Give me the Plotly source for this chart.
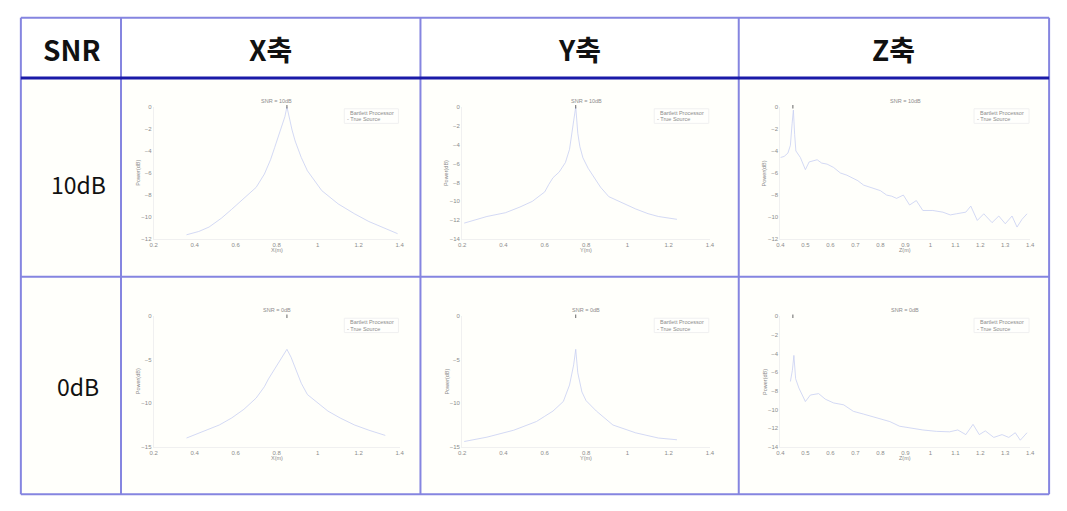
import plotly.graph_objects as go

W, H = 1067, 511

# ---------------- data ----------------
row_labels = ["10dB", "0dB"]
col_labels = ["X축", "Y축", "Z축"]
axis_names = ["X(m)", "Y(m)", "Z(m)"]
snr_titles = ["SNR = 10dB", "SNR = 0dB"]

# true source positions per axis (m)
true_source = [0.85, 0.75, 0.45]

# Bartlett processor output, SNR = 10dB
x10_pos = [0.36, 0.42, 0.47, 0.53, 0.58, 0.64, 0.70, 0.74, 0.77, 0.79, 0.82, 0.84, 0.85,
           0.86, 0.875, 0.89, 0.92, 0.95, 1.02, 1.10, 1.18, 1.25, 1.31, 1.39]
x10_pow = [-11.6, -11.3, -10.9, -10.1, -9.3, -8.3, -7.3, -6.1, -4.8, -3.7, -2.0, -0.9, 0.0,
           -0.9, -2.1, -3.1, -4.6, -5.8, -7.6, -8.8, -9.7, -10.4, -10.9, -11.5]

y10_pos = [0.21, 0.27, 0.32, 0.41, 0.48, 0.54, 0.60, 0.62, 0.64, 0.67, 0.70, 0.72, 0.73, 0.74,
           0.75, 0.755, 0.76, 0.77, 0.785, 0.81, 0.83, 0.87, 0.91, 0.98, 1.04, 1.10, 1.15, 1.24]
y10_pow = [-12.3, -11.9, -11.6, -11.2, -10.6, -10.0, -9.0, -8.2, -7.5, -6.9, -5.9, -4.5, -3.2, -1.5,
           0.0, -1.5, -2.8, -4.2, -5.4, -6.5, -7.2, -8.5, -9.5, -10.2, -10.8, -11.3, -11.6, -11.9]

z10_pos = [0.40, 0.415, 0.43, 0.44, 0.447, 0.452, 0.457, 0.462, 0.48, 0.50, 0.515, 0.53, 0.547,
           0.565, 0.587, 0.613, 0.64, 0.666, 0.69, 0.71, 0.733, 0.76, 0.78, 0.80, 0.825, 0.845,
           0.865, 0.892, 0.917, 0.944, 0.97, 1.01, 1.05, 1.08, 1.104, 1.142, 1.162, 1.188, 1.214,
           1.247, 1.274, 1.30, 1.327, 1.347, 1.367, 1.387]
z10_pow = [-4.6, -4.5, -4.2, -3.5, -1.5, -0.3, -2.5, -4.0, -4.6, -5.7, -5.0, -4.9, -4.8,
           -5.1, -5.2, -5.5, -6.0, -6.2, -6.5, -6.7, -7.1, -7.3, -7.4, -7.6, -8.0, -8.1,
           -8.3, -8.0, -8.9, -8.5, -9.4, -9.4, -9.55, -9.8, -9.7, -9.55, -9.0, -10.3, -9.7,
           -10.5, -9.9, -10.6, -9.9, -10.9, -10.2, -9.7]

# Bartlett processor output, SNR = 0dB
x0_pos = [0.36, 0.45, 0.52, 0.58, 0.64, 0.70, 0.74, 0.76, 0.79, 0.81, 0.83, 0.85, 0.87, 0.89,
          0.92, 0.95, 1.00, 1.05, 1.11, 1.18, 1.25, 1.33]
x0_pow = [-14.0, -13.2, -12.5, -11.7, -10.7, -9.4, -8.1, -7.2, -6.1, -5.3, -4.5, -3.8, -4.7, -6.0,
          -7.7, -9.0, -10.0, -10.9, -11.7, -12.5, -13.1, -13.7]

y0_pos = [0.21, 0.32, 0.45, 0.56, 0.60, 0.64, 0.69, 0.72, 0.74, 0.75, 0.76, 0.78, 0.80, 0.85,
          0.93, 1.04, 1.15, 1.24]
y0_pow = [-14.4, -13.9, -13.1, -12.1, -11.5, -10.9, -9.8, -7.9, -5.6, -3.8, -6.5, -8.7, -9.7, -10.9,
          -12.5, -13.4, -14.0, -14.2]

z0_pos = [0.44, 0.448, 0.454, 0.461, 0.474, 0.50, 0.52, 0.553, 0.58, 0.613, 0.653, 0.692, 0.733,
          0.785, 0.838, 0.877, 0.917, 0.97, 1.024, 1.077, 1.11, 1.142, 1.171, 1.196, 1.22, 1.254,
          1.287, 1.314, 1.34, 1.36, 1.387]
z0_pow = [-7.0, -5.8, -4.2, -6.7, -7.7, -9.15, -8.45, -8.3, -8.9, -9.3, -9.5, -10.2, -10.5,
          -10.9, -11.3, -11.8, -12.0, -12.2, -12.35, -12.4, -12.2, -12.7, -11.6, -12.7, -12.3, -13.0,
          -12.7, -13.0, -12.5, -13.3, -12.5]

# axis settings per panel
x_ranges = [[0.2, 1.4], [0.2, 1.4], [0.4, 1.4]]
x_ticks = [[0.2, 0.4, 0.6, 0.8, 1.0, 1.2, 1.4],
           [0.2, 0.4, 0.6, 0.8, 1.0, 1.2, 1.4],
           [0.4, 0.5, 0.6, 0.7, 0.8, 0.9, 1.0, 1.1, 1.2, 1.3, 1.4]]
y_ranges = [[[-12, 0], [-14, 0], [-12, 0]],
            [[-15, 0], [-15, 0], [-14, 0]]]
y_ticks = [[list(range(-12, 1, 2)), list(range(-14, 1, 2)), list(range(-12, 1, 2))],
           [[-15, -10, -5, 0], [-15, -10, -5, 0], list(range(-14, 1, 2))]]

series = [[(x10_pos, x10_pow), (y10_pos, y10_pow), (z10_pos, z10_pow)],
          [(x0_pos, x0_pow), (y0_pos, y0_pow), (z0_pos, z0_pow)]]

# ---------------- layout geometry (pixels) ----------------
T_LEFT, T_RIGHT, T_TOP, T_BOTTOM = 17, 1054, 15, 497
COL_X = [118, 420, 741]
HEAD_Y = 76
ROW_Y = 277

# plot area boxes: (left, right) per column, (top, bottom) per row
col_box = [(151, 399), (462, 712), (783, 1035)]
row_box = [(105, 239), (317, 449)]


def fx(p):
    return p / W


def fy(p):
    return 1 - p / H


fig = go.Figure()
shapes = []
annotations = []

TXT = "#8c8c8c"
CURVE = "rgba(200,207,242,0.8)"
SMALL_FONT = "Liberation Sans"

# cell background
shapes.append(dict(type="rect", xref="paper", yref="paper",
                   x0=fx(T_LEFT), x1=fx(T_RIGHT), y0=fy(T_BOTTOM), y1=fy(HEAD_Y),
                   fillcolor="#fffffb", line=dict(width=0), layer="below"))

n = 0
for r in range(2):
    for c in range(3):
        n += 1
        sfx = "" if n == 1 else str(n)
        xa, ya = "x" + sfx, "y" + sfx
        xs, ys = series[r][c]
        fig.add_trace(go.Scatter(x=xs, y=ys, mode="lines", xaxis=xa, yaxis=ya,
                                 line=dict(color=CURVE, width=1), showlegend=False,
                                 cliponaxis=False, hoverinfo="skip"))
        fig.add_trace(go.Scatter(x=[true_source[c]], y=[0], mode="markers", xaxis=xa, yaxis=ya,
                                 marker=dict(symbol="line-ns", size=2.5,
                                             line=dict(color="#666666", width=1)),
                                 showlegend=False, cliponaxis=False, hoverinfo="skip"))
        l, rr = col_box[c]
        t, b = row_box[r]
        fig.layout["xaxis" + sfx] = dict(
            domain=[fx(l), fx(rr)], anchor=ya, range=x_ranges[c], tickvals=x_ticks[c],
            ticktext=[("%g" % v) for v in x_ticks[c]], ticks="", showgrid=False, zeroline=False,
            showline=True, linecolor="#f0f0f0", linewidth=1,
            tickfont=dict(family=SMALL_FONT, size=6, color=TXT))
        fig.layout["yaxis" + sfx] = dict(
            domain=[fy(b), fy(t)], anchor=xa, range=y_ranges[r][c], tickvals=y_ticks[r][c],
            ticks="", showgrid=False, zeroline=False,
            showline=True, linecolor="#f0f0f0", linewidth=1,
            tickfont=dict(family=SMALL_FONT, size=6, color=TXT))
        dx, dy = xa + " domain", ya + " domain"
        small = dict(family=SMALL_FONT, size=5.5, color=TXT)
        # panel title
        annotations.append(dict(text=snr_titles[r], xref=dx, yref=dy, x=0.5, y=1,
                                xanchor="center", yanchor="bottom", yshift=1,
                                showarrow=False, font=small))
        # axis titles
        annotations.append(dict(text=axis_names[c], xref=dx, yref=dy, x=0.5, y=0,
                                xanchor="center", yanchor="top", yshift=-6,
                                showarrow=False, font=small))
        annotations.append(dict(text="Power(dB)", xref=dx, yref=dy, x=0, y=0.5,
                                xanchor="center", yanchor="middle", xshift=-16, textangle=-90,
                                showarrow=False, font=small))
        # legend box
        shapes.append(dict(type="rect", xref=dx, yref=dy, x0=0.775, x1=0.995, y0=0.875, y1=0.985,
                           line=dict(color="#f0f0f0", width=1), fillcolor="rgba(255,255,255,0.6)"))
        annotations.append(dict(text="Bartlett Processor", xref=dx, yref=dy, x=0.775, y=0.955,
                                xanchor="left", yanchor="middle", xshift=4,
                                showarrow=False, font=small))
        annotations.append(dict(text="- True Source", xref=dx, yref=dy, x=0.775, y=0.905,
                                xanchor="left", yanchor="middle", xshift=1,
                                showarrow=False, font=small))

# ---------------- table frame ----------------
BORDER = "#8585e0"
for xv in [T_LEFT, COL_X[0], COL_X[1], COL_X[2], T_RIGHT]:
    shapes.append(dict(type="line", xref="paper", yref="paper", x0=fx(xv), x1=fx(xv),
                       y0=fy(T_TOP), y1=fy(T_BOTTOM), line=dict(color=BORDER, width=2)))
for yv in [T_TOP, ROW_Y, T_BOTTOM]:
    shapes.append(dict(type="line", xref="paper", yref="paper", x0=fx(T_LEFT), x1=fx(T_RIGHT),
                       y0=fy(yv), y1=fy(yv), line=dict(color=BORDER, width=2)))
shapes.append(dict(type="line", xref="paper", yref="paper", x0=fx(T_LEFT), x1=fx(T_RIGHT),
                   y0=fy(HEAD_Y), y1=fy(HEAD_Y), line=dict(color="#1a1aa8", width=3)))

# header texts
HEAD_FONT = "Noto Sans CJK KR"
annotations.append(dict(text="<b>SNR</b>", xref="paper", yref="paper", x=fx(69), y=fy(47),
                        xanchor="center", yanchor="middle", showarrow=False,
                        font=dict(family=HEAD_FONT, size=28, color="#111111")))
for c, lab in enumerate(col_labels):
    left = COL_X[c]
    right = COL_X[c + 1] if c < 2 else T_RIGHT
    annotations.append(dict(text="<b>%s</b>" % lab, xref="paper", yref="paper",
                            x=fx((left + right) / 2), y=fy(47), xanchor="center",
                            yanchor="middle", showarrow=False,
                            font=dict(family=HEAD_FONT, size=28, color="#111111")))
for r, lab in enumerate(row_labels):
    annotations.append(dict(text=lab, xref="paper", yref="paper", x=fx(75),
                            y=fy([183, 388][r]), xanchor="center", yanchor="middle",
                            showarrow=False,
                            font=dict(family=HEAD_FONT, size=23, color="#111111")))

fig.update_layout(width=W, height=H, margin=dict(l=0, r=0, t=0, b=0),
                  paper_bgcolor="white", plot_bgcolor="rgba(0,0,0,0)",
                  shapes=shapes, annotations=annotations, showlegend=False)

fig.write_html("out.html")
